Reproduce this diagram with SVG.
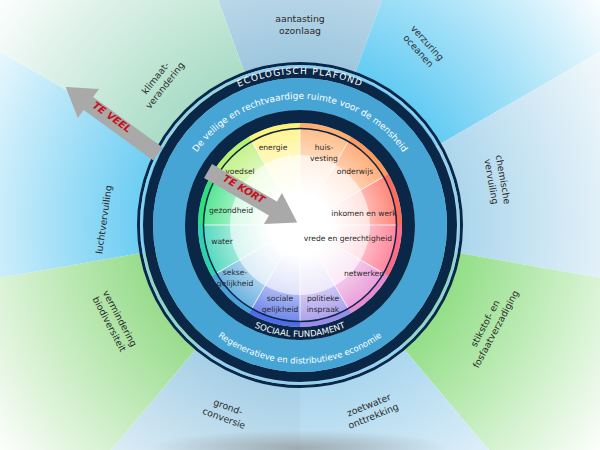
<svg xmlns="http://www.w3.org/2000/svg" width="600" height="450" viewBox="0 0 600 450">
<style>
.lbl{font-family:"DejaVu Sans",Verdana,sans-serif;font-size:9.3px;fill:#2a2a2a;text-anchor:middle}
.sec{font-family:"DejaVu Sans",Verdana,sans-serif;font-size:7.6px;fill:#2a2a2a;text-anchor:middle}
.wt{font-family:"DejaVu Sans",Verdana,sans-serif;fill:#fff;text-anchor:middle}
.red{font-family:"DejaVu Sans",Verdana,sans-serif;font-size:10px;font-weight:bold;font-style:italic;fill:#c8101a;text-anchor:middle}
.arrow{fill:#a9a9a9}
</style>
<defs>
<radialGradient id="g_oz" gradientUnits="userSpaceOnUse" cx="300" cy="225" r="400"><stop offset="0.4" stop-color="#9cc6de"/><stop offset="0.95" stop-color="#f2f8fc"/></radialGradient>
<radialGradient id="g_ve" gradientUnits="userSpaceOnUse" cx="300" cy="225" r="400"><stop offset="0.4" stop-color="#62cbf3"/><stop offset="0.95" stop-color="#ffffff"/></radialGradient>
<radialGradient id="g_ch" gradientUnits="userSpaceOnUse" cx="300" cy="225" r="400"><stop offset="0.4" stop-color="#acd6ec"/><stop offset="0.95" stop-color="#ffffff"/></radialGradient>
<radialGradient id="g_st" gradientUnits="userSpaceOnUse" cx="300" cy="225" r="400"><stop offset="0.4" stop-color="#92de86"/><stop offset="0.95" stop-color="#ffffff"/></radialGradient>
<radialGradient id="g_zo" gradientUnits="userSpaceOnUse" cx="300" cy="225" r="400"><stop offset="0.4" stop-color="#aad6ee"/><stop offset="0.95" stop-color="#ffffff"/></radialGradient>
<radialGradient id="g_gr" gradientUnits="userSpaceOnUse" cx="300" cy="225" r="400"><stop offset="0.4" stop-color="#a6cfe6"/><stop offset="0.95" stop-color="#ffffff"/></radialGradient>
<radialGradient id="g_bi" gradientUnits="userSpaceOnUse" cx="300" cy="225" r="400"><stop offset="0.4" stop-color="#98dc8c"/><stop offset="0.95" stop-color="#ffffff"/></radialGradient>
<radialGradient id="g_lu" gradientUnits="userSpaceOnUse" cx="300" cy="225" r="400"><stop offset="0.4" stop-color="#6ccdf3"/><stop offset="0.95" stop-color="#ffffff"/></radialGradient>
<radialGradient id="g_kl" gradientUnits="userSpaceOnUse" cx="300" cy="225" r="400"><stop offset="0.4" stop-color="#a9dcc6"/><stop offset="0.95" stop-color="#ffffff"/></radialGradient>
<radialGradient id="g_white" gradientUnits="userSpaceOnUse" cx="300" cy="225" r="100"><stop offset="0.3" stop-color="#fff" stop-opacity="1"/><stop offset="1" stop-color="#fff" stop-opacity="0.15"/></radialGradient>
<radialGradient id="g_shadow" cx="0.5" cy="0.5" r="0.5"><stop offset="0" stop-color="#888" stop-opacity="0.6"/><stop offset="1" stop-color="#888" stop-opacity="0"/></radialGradient>
<path id="arcTop" d="M 192,160 A 126,126 0 0 1 408,160"/>
<path id="arcEco" d="M 169.2,149.5 A 151,151 0 0 1 430.8,149.5"/>
<path id="arcSoc" d="M 208.3,289.2 A 112,112 0 0 0 391.7,289.2"/>
<path id="arcReg" d="M 186.7,304.3 A 138,138 0 0 0 413.3,304.3"/>
</defs>
<rect width="600" height="450" fill="#fff"/>
<g id="wedges">
<path d="M300,225 L146.1,-198 L453.9,-198Z" fill="url(#g_oz)"/>
<path d="M300,225 L453.9,-198 L689.7,0Z" fill="url(#g_ve)"/>
<path d="M300,225 L689.7,0 L743.2,303.1Z" fill="url(#g_ch)"/>
<path d="M300,225 L743.2,303.1 L589.3,569.7Z" fill="url(#g_st)"/>
<path d="M300,225 L589.3,569.7 L300,675Z" fill="url(#g_zo)"/>
<path d="M300,225 L300,675 L10.7,569.7Z" fill="url(#g_gr)"/>
<path d="M300,225 L10.7,569.7 L-143.2,303.1Z" fill="url(#g_bi)"/>
<path d="M300,225 L-143.2,303.1 L-89.7,0Z" fill="url(#g_lu)"/>
<path d="M300,225 L-89.7,0 L146.1,-198Z" fill="url(#g_kl)"/>
<ellipse cx="300" cy="448" rx="150" ry="18" fill="url(#g_shadow)"/>
</g>
<g id="outer-labels">
<text class="lbl" x="300" y="22">aantasting<tspan x="300" dy="12">ozonlaag</tspan></text>
<text class="lbl" transform="translate(425,45) rotate(48)">verzuring<tspan x="0" dy="12">oceanen</tspan></text>
<text class="lbl" transform="translate(500,180) rotate(80)">chemische<tspan x="0" dy="12">vervuiling</tspan></text>
<text class="lbl" transform="translate(488,325) rotate(-62)">stikstof- en<tspan x="0" dy="12">fosfaatverzadiging</tspan></text>
<text class="lbl" transform="translate(370,408) rotate(-22)">zoetwater<tspan x="0" dy="12">onttrekking</tspan></text>
<text class="lbl" transform="translate(227,410) rotate(20)">grond-<tspan x="0" dy="12">conversie</tspan></text>
<text class="lbl" transform="translate(117,320) rotate(62)">vermindering<tspan x="0" dy="12">biodiversiteit</tspan></text>
<text class="lbl" transform="translate(107,220) rotate(-82)">luchtvervuiling</text>
<text class="lbl" transform="translate(158,80) rotate(-52)">klimaat-<tspan x="0" dy="12">verandering</tspan></text>
</g>
<g id="rings">
<circle cx="300" cy="225" r="161.5" fill="none" stroke="#0a2748" stroke-width="3"/>
<circle cx="300" cy="225" r="159" fill="none" stroke="#8ed0ef" stroke-width="2"/>
<circle cx="300" cy="225" r="152" fill="none" stroke="#0a2748" stroke-width="10"/>
<circle cx="300" cy="225" r="131" fill="none" stroke="#47a5d6" stroke-width="32"/>
<circle cx="300" cy="225" r="108.5" fill="none" stroke="#0a2748" stroke-width="13"/>
<text class="wt" font-size="9" letter-spacing="1.2"><textPath href="#arcEco" startOffset="50%">ECOLOGISCH PLAFOND</textPath></text>
<text class="wt" font-size="9"><textPath href="#arcTop" startOffset="50%">De veilige en rechtvaardige ruimte voor de mensheid</textPath></text>
<text class="wt" font-size="8.5"><textPath href="#arcSoc" startOffset="50%">SOCIAAL FUNDAMENT</textPath></text>
<text class="wt" font-size="8.5"><textPath href="#arcReg" startOffset="50%">Regeneratieve en distributieve  economie</textPath></text>
</g>
<g id="sectors">
<path d="M300,225 L300,123 A102,102 0 0 1 351,136.7Z" fill="#ffb070"/>
<path d="M300,225 L351,136.7 A102,102 0 0 1 388.3,174Z" fill="#ff9a5a"/>
<path d="M300,225 L388.3,174 A102,102 0 0 1 402,225Z" fill="#ff6b5a"/>
<path d="M300,225 L402,225 A102,102 0 0 1 388.3,276Z" fill="#ff6b86"/>
<path d="M300,225 L388.3,276 A102,102 0 0 1 351,313.3Z" fill="#e68ad2"/>
<path d="M300,225 L351,313.3 A102,102 0 0 1 300,327Z" fill="#9b8be8"/>
<path d="M300,225 L300,327 A102,102 0 0 1 249,313.3Z" fill="#4f6be8"/>
<path d="M300,225 L249,313.3 A102,102 0 0 1 211.7,276Z" fill="#4aa0d8"/>
<path d="M300,225 L211.7,276 A102,102 0 0 1 198,225Z" fill="#2fd0b0"/>
<path d="M300,225 L198,225 A102,102 0 0 1 211.7,174Z" fill="#2ee07a"/>
<path d="M300,225 L211.7,174 A102,102 0 0 1 249,136.7Z" fill="#b8f070"/>
<path d="M300,225 L249,136.7 A102,102 0 0 1 300,123Z" fill="#fff27a"/>
<circle cx="300" cy="225" r="96" fill="url(#g_white)"/>
<g stroke="#fff" stroke-width="1" opacity="0.8">
<line x1="300" y1="225" x2="300" y2="129"/><line x1="300" y1="225" x2="348" y2="141.9"/><line x1="300" y1="225" x2="383.1" y2="177"/><line x1="300" y1="225" x2="396" y2="225"/><line x1="300" y1="225" x2="383.1" y2="273"/><line x1="300" y1="225" x2="348" y2="308.1"/><line x1="300" y1="225" x2="300" y2="321"/><line x1="300" y1="225" x2="252" y2="308.1"/><line x1="300" y1="225" x2="216.9" y2="273"/><line x1="300" y1="225" x2="204" y2="225"/><line x1="300" y1="225" x2="216.9" y2="177"/><line x1="300" y1="225" x2="252" y2="141.9"/>
</g>
<circle cx="300" cy="225" r="70" fill="#fff" opacity="0.6"/>
<circle cx="300" cy="225" r="96.5" fill="none" stroke="#0a2748" stroke-width="1.5"/>
<text class="sec" x="273" y="150">energie</text>
<text class="sec" x="324" y="150">huis-<tspan x="324" dy="11">vesting</tspan></text>
<text class="sec" x="355" y="174">onderwijs</text>
<text class="sec" x="240" y="174">voedsel</text>
<text class="sec" x="231" y="213">gezondheid</text>
<text class="sec" x="364" y="216">inkomen en werk</text>
<text class="sec" x="222" y="244">water</text>
<text class="sec" x="348" y="241">vrede en gerechtigheid</text>
<text class="sec" x="235" y="275">sekse-<tspan x="235" dy="11">gelijkheid</tspan></text>
<text class="sec" x="364" y="276">netwerken</text>
<text class="sec" x="280" y="301">sociale<tspan x="280" dy="11">gelijkheid</tspan></text>
<text class="sec" x="323" y="301">politieke<tspan x="323" dy="11">inspraak</tspan></text>
</g>
<g id="connectors">
<path class="arrow" transform="translate(158,154) rotate(216)" d="M0,-8 L86,-8 L86,-18 L114,0 L86,18 L86,8 L0,8Z"/>
<text class="red" transform="translate(112,117) rotate(36)" dy="3.5">TE VEEL</text>
<path class="arrow" transform="translate(208,171) rotate(30)" d="M0,-8 L75,-8 L75,-18 L103,0 L75,18 L75,8 L0,8Z"/>
<text class="red" transform="translate(244,189) rotate(30)" dy="3.5">TE KORT</text>
</g>
</svg>
